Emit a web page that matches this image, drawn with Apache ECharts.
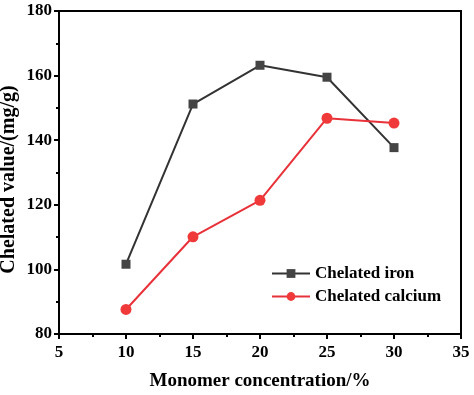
<!DOCTYPE html>
<html><head><meta charset="utf-8">
<script src="https://cdn.jsdelivr.net/npm/echarts@6/dist/echarts.min.js"></script>
<style>html,body{margin:0;padding:0;background:#fff}#c{width:474px;height:395px}</style>
</head><body><div id="c"></div>
<script>
const concentrations = [10, 15, 20, 25, 30];
const chelatedIron = [101.6, 151.2, 163.2, 159.5, 137.7];
const chelatedCalcium = [87.6, 110.1, 121.4, 146.8, 145.3];
const seriesNames = ['Chelated iron', 'Chelated calcium'];
const xTitle = 'Monomer concentration/%';
const yTitle = 'Chelated value/(mg/g)';

const font = 'Liberation Serif, Times New Roman, serif';
const chart = echarts.init(document.getElementById('c'));
const pair = arr => concentrations.map((x, i) => [x, arr[i]]);
chart.setOption({
  animation: false,
  grid: { left: 59, right: 13, top: 11, bottom: 61, containLabel: false, outerBoundsMode: 'none',
    show: true, borderColor: '#000', borderWidth: 2, backgroundColor: 'transparent' },
  legend: {
    orient: 'vertical', left: 266, top: 260, itemGap: 6, itemWidth: 38, itemHeight: 11,
    textStyle: { fontFamily: font, fontWeight: 'bold', fontSize: 17, color: '#000' },
    data: seriesNames
  },
  xAxis: {
    type: 'value', min: 5, max: 35, interval: 5,
    name: xTitle, nameLocation: 'middle', nameGap: 38, nameMoveOverlap: false,
    nameTextStyle: { fontFamily: font, fontWeight: 'bold', fontSize: 19, color: '#000' },
    axisLine: { lineStyle: { color: '#000', width: 2 } },
    axisTick: { show: true, inside: false, length: 5, lineStyle: { width: 2, color: '#000' } },
    minorTick: { show: true, splitNumber: 2, length: 3, lineStyle: { width: 2, color: '#000' } },
    axisLabel: { fontFamily: font, fontWeight: 'bold', fontSize: 17, color: '#000', margin: 10 },
    splitLine: { show: false }
  },
  yAxis: {
    type: 'value', min: 80, max: 180, interval: 20,
    name: yTitle, nameLocation: 'middle', nameGap: 40, nameMoveOverlap: false,
    nameTextStyle: { fontFamily: font, fontWeight: 'bold', fontSize: 20, color: '#000', padding: [0, 14, 0, 0] },
    axisLine: { show: true, lineStyle: { color: '#000', width: 2 } },
    axisTick: { show: true, inside: false, length: 5, lineStyle: { width: 2, color: '#000' } },
    minorTick: { show: true, splitNumber: 2, length: 3, lineStyle: { width: 2, color: '#000' } },
    axisLabel: { fontFamily: font, fontWeight: 'bold', fontSize: 17, color: '#000', margin: 7 },
    splitLine: { show: false }
  },
  series: [
    { name: seriesNames[0], type: 'line', data: pair(chelatedIron), symbol: 'rect', symbolSize: 9,
      itemStyle: { color: '#444444' }, lineStyle: { color: '#333333', width: 2 } },
    { name: seriesNames[1], type: 'line', data: pair(chelatedCalcium), symbol: 'circle', symbolSize: 11,
      itemStyle: { color: '#f03a3a' }, lineStyle: { color: '#e8323a', width: 2 } }
  ]
});
</script></body></html>
